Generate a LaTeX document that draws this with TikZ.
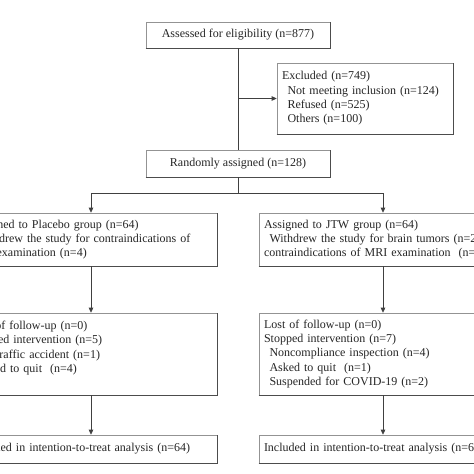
\documentclass[tikz,border=0pt]{standalone}
\usepackage{fontspec}
\setmainfont{Liberation Serif}
\usetikzlibrary{arrows.meta}
\newcommand{\ind}{\hspace*{5.5pt}}
\begin{document}
\begin{tikzpicture}[x=1pt,y=-1pt,
  box/.style={draw=gray!85, line width=0.6pt, inner xsep=5pt, inner ysep=0pt,
    font=\fontsize{12}{14.3}\selectfont, text=black!85, align=left},
  conn/.style={draw=black!75, line width=0.8pt},
  arr/.style={conn, -{Triangle[length=5pt,width=4.5pt]}}]
\useasboundingbox (0,0) rectangle (474,474);
\fill[white] (0,0) rectangle (474,474);
\clip (0,0) rectangle (474,474);

\node[box, align=center, minimum width=184pt, minimum height=26pt] (assess) at (238,35)
  {Assessed for eligibility (n=877)};
\node[box, text width=166pt, minimum height=71pt] (excl) at (365,98.5)
  {Excluded (n=749)\\ \ind Not meeting inclusion (n=124)\\ \ind Refused (n=525)\\ \ind Others (n=100)};
\node[box, align=center, minimum width=184pt, minimum height=27pt] (rand) at (238,163.5)
  {Randomly assigned (n=128)};

\node[box, text width=242pt, minimum height=53pt] (la) at (91,239.5)
  {Assigned to Placebo group (n=64)\\ \ind Withdrew the study for contraindications of\\ MRI examination (n=4)};
\node[box, text width=238pt, minimum height=53pt] (ra) at (383,239.5)
  {Assigned to JTW group (n=64)\\ \ind Withdrew the study for brain tumors (n=2) and\\ contraindications of MRI examination\ \ (n=2)};

\node[box, text width=242pt, minimum height=82pt] (lb) at (91,354)
  {Lost of follow-up (n=0)\\ Stopped intervention (n=5)\\ \ind For traffic accident (n=1)\\ \ind Asked to quit\ \ (n=4)\\ \mbox{}};
\node[box, text width=238pt, minimum height=82pt] (rb) at (383,354)
  {Lost of follow-up (n=0)\\ Stopped intervention (n=7)\\ \ind Noncompliance inspection (n=4)\\ \ind Asked to quit\ \ (n=1)\\ \ind Suspended for COVID-19 (n=2)};

\node[box, text width=242pt, minimum height=28pt] (lc) at (91,449)
  {Included in intention-to-treat analysis (n=64)};
\node[box, text width=238pt, minimum height=28pt] (rc) at (383,449)
  {Included in intention-to-treat analysis (n=64)};

\foreach \n in {assess,excl,rand,la,ra,lb,rb,lc,rc}
  \draw[gray!60!black, line width=1.1pt] (\n.south west) -- (\n.south east) -- (\n.north east);

\draw[conn] (assess.south) -- (rand.north);
\coordinate (exc) at (assess.south |- excl.west);
\draw[arr] (exc) -- (excl.west);
\coordinate (split) at (238,193);
\draw[conn] (rand.south) -- (split);
\coordinate (sl) at (la.north |- split);
\coordinate (sr) at (ra.north |- split);
\draw[conn] (sl) -- (sr);
\draw[arr] (sl) -- (la.north);
\draw[arr] (sr) -- (ra.north);
\draw[arr] (la.south) -- (lb.north);
\draw[arr] (ra.south) -- (rb.north);
\draw[arr] (lb.south) -- (lc.north);
\draw[arr] (rb.south) -- (rc.north);
\end{tikzpicture}
\end{document}
